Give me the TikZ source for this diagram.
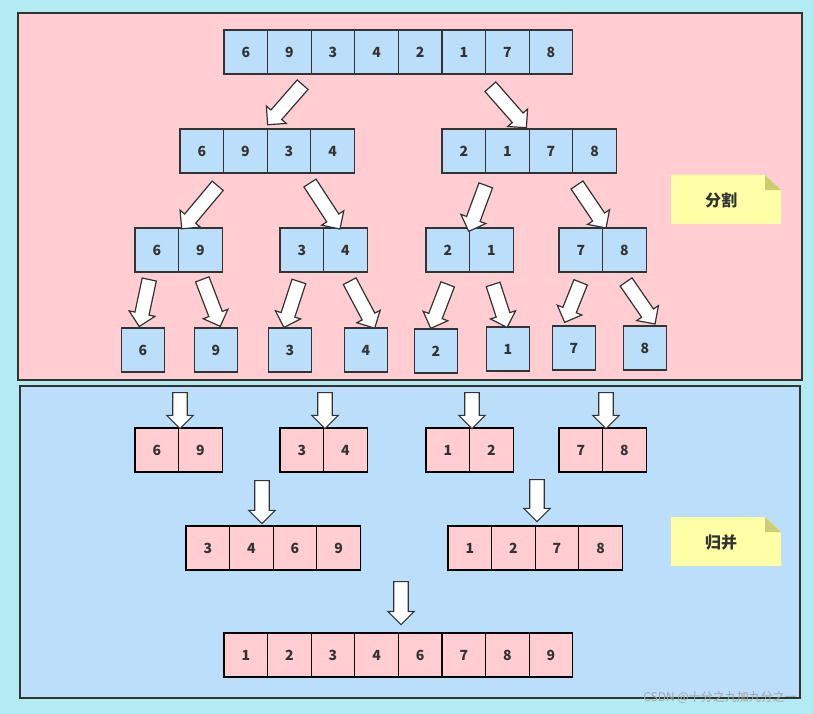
\documentclass[tikz,border=0pt]{standalone}
\usepackage{fontspec}
\setmainfont{Noto Sans CJK SC}
\usetikzlibrary{positioning,calc,shapes.arrows}
\definecolor{bgcyan}{HTML}{B2EBF2}
\definecolor{splitbg}{HTML}{FFCDD2}
\definecolor{mergebg}{HTML}{BBDEFB}
\definecolor{notefill}{HTML}{FFFFA8}
\definecolor{notefold}{HTML}{CCCC70}
\definecolor{ink}{HTML}{333333}
\tikzset{
  cell/.style={draw=ink,line width=1.2pt,minimum width=43.6pt,minimum height=44pt,inner sep=0pt,font=\bfseries\fontsize{14}{14}\selectfont,text=ink},
  bluecell/.style={cell,fill=mergebg},
  pinkcell/.style={cell,fill=splitbg,draw=black},
  blk/.style={single arrow,draw=ink,fill=white,line width=1.2pt,inner sep=4.5pt,minimum width=23pt,single arrow head extend=6pt,single arrow tip angle=90,shape border uses incircle},
  note/.style={fill=notefill,font=\bfseries\fontsize{16}{16}\selectfont,text=ink}
}
% row of cells: prefix, left x, centre y, style, values
\newcommand{\cellrow}[5]{
  \foreach \v [count=\i] in {#5}
    \node[#4] (#1-\i) at (#2+43.6*\i-21.8,#3) {\v};
}
% hollow block arrow from point to point
\newcommand{\blkarrow}[2]{
  \coordinate (ba-s) at (#1);
  \coordinate (ba-e) at (#2);
  \path let \p1=($(ba-e)-(ba-s)$), \n1={atan2(\y1,\x1)}, \n2={veclen(\x1,\y1)} in
    node[blk,minimum height=\n2,rotate=\n1] at ($(ba-s)!0.5!(ba-e)$) {};
}
\newcommand{\notebox}[3]{
  \fill[notefill] (#1,#2) -- ++(94,0) -- ++(16,15) -- ++(0,34) -- ++(-110,0) -- cycle;
  \fill[notefold] (#1+94,#2) -- ++(16,15) -- ++(-16,0) -- cycle;
  \node[note] (#3) at (#1+50,#2+25) {#3};
}
\begin{document}
\begin{tikzpicture}[x=1pt,y=-1pt]
  \fill[bgcyan] (0,0) rectangle (813,714);
  \useasboundingbox (0,0) rectangle (813,714);
  \filldraw[fill=splitbg,draw=ink,line width=1.5pt] (18,13) rectangle (802,380);
  \filldraw[fill=mergebg,draw=ink,line width=1.5pt] (20,386) rectangle (800,698);

  % split
  \cellrow{a}{224}{52}{bluecell}{6,9,3,4,2,1,7,8}
  \cellrow{b}{180}{151}{bluecell}{6,9,3,4}
  \cellrow{c}{442}{151}{bluecell}{2,1,7,8}
  \cellrow{d}{135}{250}{bluecell}{6,9}
  \cellrow{e}{280}{250}{bluecell}{3,4}
  \cellrow{f}{426}{250}{bluecell}{2,1}
  \cellrow{g}{559}{250}{bluecell}{7,8}
  \node[bluecell] (s1) at (143,350) {6};
  \node[bluecell] (s2) at (216,350) {9};
  \node[bluecell] (s3) at (290,350) {3};
  \node[bluecell] (s4) at (366,350) {4};
  \node[bluecell] (s5) at (436,351) {2};
  \node[bluecell] (s6) at (508,349) {1};
  \node[bluecell] (s7) at (574,348) {7};
  \node[bluecell] (s8) at (645,348) {8};

  \blkarrow{305,82}{270,122}
  \blkarrow{488,84}{524,125}
  \blkarrow{220,183}{184,226}
  \blkarrow{308,180}{338,226}
  \blkarrow{487,182}{470,228}
  \blkarrow{575,182}{604,225}
  \blkarrow{150,276}{140,323}
  \blkarrow{201,276}{219,323}
  \blkarrow{300,278}{285,324}
  \blkarrow{348,278}{373,325}
  \blkarrow{449,281}{432,325}
  \blkarrow{492,281}{506,324}
  \blkarrow{582,279}{566,319}
  \blkarrow{624,279}{653,321}

  % merge
  \cellrow{h}{135}{450}{pinkcell}{6,9}
  \cellrow{i}{280}{450}{pinkcell}{3,4}
  \cellrow{j}{426}{450}{pinkcell}{1,2}
  \cellrow{k}{559}{450}{pinkcell}{7,8}
  \cellrow{l}{186}{548}{pinkcell}{3,4,6,9}
  \cellrow{m}{448}{548}{pinkcell}{1,2,7,8}
  \cellrow{n}{224}{655}{pinkcell}{1,2,3,4,6,7,8,9}

  \blkarrow{180,389}{180,425}
  \blkarrow{325,389}{325,425}
  \blkarrow{472,389}{472,425}
  \blkarrow{606,389}{606,425}
  \blkarrow{262,477}{262,520}
  \blkarrow{537,476}{537,518}
  \blkarrow{401,578}{401,621}

  \notebox{671}{175}{分割}
  \notebox{671}{517}{归并}

  \node[anchor=south east,text=gray!70,font=\fontsize{12}{12}\selectfont,inner sep=0pt] (mark) at (797,704) {CSDN @十分之九加九分之一};
\end{tikzpicture}
\end{document}
